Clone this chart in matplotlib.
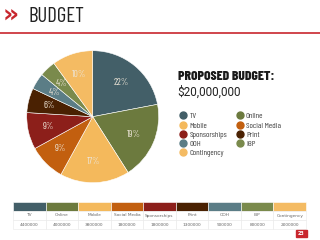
import matplotlib
matplotlib.use("Agg")
import matplotlib.pyplot as plt
from matplotlib.lines import Line2D

categories = ["TV", "Online", "Mobile", "Social Media", "Sponsorships", "Print", "OOH", "IBP", "Contingency"]
shares = [22, 19, 17, 9, 9, 6, 4, 4, 10]
table_values = ["4400000", "4000000", "3800000", "1800000", "1800000", "1300000", "900000", "800000", "2000000"]
colors = ["#435f68", "#6c7a3e", "#f4b95c", "#c25f0f", "#8c1f1a", "#4a2102", "#5b7d86", "#7a8a4c", "#f4bb63"]
total_label = "$20,000,000"

W, H = 320, 240
fig = plt.figure(figsize=(W / 100, H / 100), dpi=100)
fig.patch.set_facecolor("white")

def fx(px):
    return px / W

def fy(py):
    return 1 - py / H

cond = ["Barlow Condensed", "DejaVu Sans"]

# Header
fig.text(fx(3), fy(16), "»", color="#c8262d", fontsize=18, fontweight="bold",
         va="center", ha="left", family=["DejaVu Sans"])
fig.text(fx(28), fy(16), "BUDGET", color="#222222", fontsize=15, va="center",
         ha="left", family=cond)
fig.add_artist(Line2D([0, 1], [fy(33), fy(33)], color="#c8262d", lw=1.2,
                      transform=fig.transFigure))

# Pie
cx, cy, r = 92.7, 116.7, 66
pax = fig.add_axes([fx(cx - r), fy(cy + r), 2 * r / W, 2 * r / H])
wedges, texts, autotexts = pax.pie(
    shares, colors=colors, startangle=90, counterclock=False, radius=1,
    autopct=lambda p: f"{p:.0f}%", pctdistance=0.68,
    wedgeprops=dict(edgecolor="white", linewidth=0.4),
    textprops=dict(color="#ece4d6", fontsize=7, family=cond))
pax.set_xlim(-1, 1)
pax.set_ylim(-1, 1)
pax.axis("off")

# Proposed budget text
fig.text(fx(178), fy(77), "PROPOSED BUDGET:", fontsize=9.8, fontweight="heavy",
         color="#1a1a1a", va="center", ha="left", family=cond)
fig.text(fx(177), fy(92), total_label, fontsize=8.5, color="#222222",
         va="center", ha="left", family=["Roboto", "DejaVu Sans"])

# Legend
order = [0, 2, 4, 6, 8, 1, 3, 5, 7]
handles = [Line2D([], [], marker="o", ls="", markersize=5, markerfacecolor=colors[i],
                  markeredgecolor=colors[i]) for i in order]
labels = [categories[i] for i in order]
leg = fig.legend(handles, labels, ncol=2, loc="upper left",
                 bbox_to_anchor=(fx(179), fy(112.5)), frameon=False,
                 prop=dict(family=cond, size=6), handletextpad=0.25,
                 columnspacing=1.0, labelspacing=0.16, handlelength=1.0,
                 borderaxespad=0, borderpad=0)
for t in leg.get_texts():
    t.set_color("#444444")

# Table
tax = fig.add_axes([fx(13), fy(229), (306 - 13) / W, 27 / H])
tax.axis("off")
cell_text = [[""] * len(categories), categories, table_values]
cell_colours = [colors, ["white"] * len(categories), ["white"] * len(categories)]
tbl = tax.table(cellText=cell_text, cellColours=cell_colours, cellLoc="center",
                bbox=[0, 0, 1, 1])
tbl.auto_set_font_size(False)
for (row, col), cell in tbl.get_celld().items():
    cell.set_edgecolor("#e8e8e8" if row > 0 else "white")
    cell.set_linewidth(0.4)
    cell.get_text().set_fontsize(3.1)
    cell.get_text().set_color("#666666")
    cell.get_text().set_family(["DejaVu Sans"])

# Page number box
fig.patches.append(plt.Rectangle((fx(296), fy(237)), 11 / W, 7 / H, color="#c8262d",
                                 transform=fig.transFigure))
fig.text(fx(301.5), fy(233.5), "23", fontsize=3.5, color="white", ha="center",
         va="center", fontweight="bold")

fig.savefig("out.png", dpi=100, facecolor="white")
